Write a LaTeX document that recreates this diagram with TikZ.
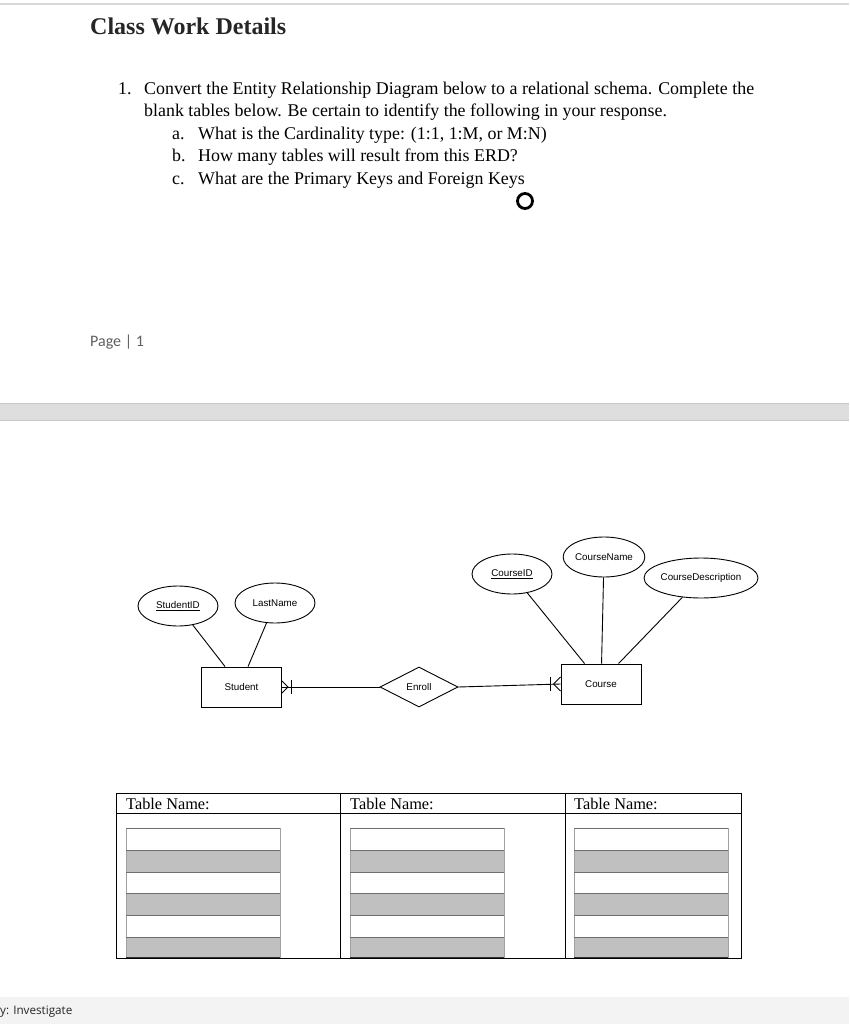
\documentclass[tikz,border=0pt]{standalone}
\usepackage{fontspec}
\setmainfont{Liberation Serif}
\newfontfamily\erdfont{Liberation Sans}
\newfontfamily\pagefont{Carlito}
\newfontfamily\uifont{Open Sans}
\usetikzlibrary{shapes.geometric,calc}
\definecolor{bandgray}{HTML}{DEDEDE}
\definecolor{bandedge}{HTML}{C8C8C8}
\definecolor{barcol}{HTML}{F3F3F3}
\definecolor{rowgray}{HTML}{C0C0C0}
\definecolor{rowline}{HTML}{6E6E6E}
\definecolor{sideline}{HTML}{A0A0A0}
\definecolor{pagegray}{HTML}{606060}
\begin{document}
\begin{tikzpicture}[x=1pt,y=-1pt,
  body/.style={anchor=base west,inner sep=0pt,font=\fontsize{17.9}{21}\selectfont},
  attr/.style={draw,ellipse,line width=0.9pt,inner sep=0pt,minimum width=80pt,minimum height=40pt,font=\erdfont\fontsize{9.8}{11}\selectfont},
  entity/.style={draw,rectangle,line width=0.9pt,inner sep=0pt,minimum width=80pt,minimum height=40pt,font=\erdfont\fontsize{9.8}{11}\selectfont},
  relation/.style={draw,diamond,aspect=2,line width=0.9pt,inner sep=0pt,minimum width=78pt,minimum height=40pt,font=\erdfont\fontsize{9.8}{11}\selectfont},
  erdline/.style={line width=0.9pt},
  tname/.style={anchor=base west,inner sep=0pt,font=\fontsize{16.3}{19}\selectfont}
]
\useasboundingbox (0,0) rectangle (849,1024);
\fill[white] (0,0) rectangle (849,1024);
% top shadow line
\draw[gray!30,line width=2.5pt] (0,4) -- (849,4);

% Title and question
\node[anchor=base west,inner sep=0pt,font=\bfseries\fontsize{24}{28}\selectfont,text=black!85] (title) at (90,35) {Class Work Details};
\node[body] (n1) at (118,95) {1.};
\node[body] (l1) at (144,95) {Convert the Entity Relationship Diagram below to a relational schema. Complete the};
\node[body] (l2) at (144,117) {blank tables below. Be certain to identify the following in your response.};
\node[body] (na) at (172,139.5) {a.};
\node[body] (la) at (198,139.5) {What is the Cardinality type: (1:1, 1:M, or M:N)};
\node[body] (nb) at (172,162) {b.};
\node[body] (lb) at (198,162) {How many tables will result from this ERD?};
\node[body] (nc) at (172,184.5) {c.};
\node[body] (lc) at (198,184.5) {What are the Primary Keys and Foreign Keys};
\node[circle,draw,line width=2.8pt,minimum size=15pt,inner sep=0pt] (cursor) at (525,201) {};

% Page footer
\node[anchor=base west,inner sep=0pt,font=\pagefont\fontsize{16}{19}\selectfont,text=pagegray] (pagenum) at (90,346) {Page | 1};

% page gap band
\fill[bandgray] (0,403) rectangle (849,420);
\draw[bandedge,line width=1pt] (0,403) -- (849,403);
\draw[bandedge,line width=1pt] (0,420) -- (849,420);

% ERD
\node[attr] (sid) at (178,606) {\underline{StudentID}};
\node[attr] (lname) at (275,603) {LastName};
\node[entity] (student) at (241.5,687) {Student};
\node[relation] (enroll) at (419,687) {Enroll};
\node[entity] (course) at (601,684) {Course};
\node[attr] (cid) at (512,574) {\underline{CourseID}};
\node[attr,minimum width=79pt] (cname) at (604,557) {CourseName};
\node[attr,minimum width=81pt] (cdesc) at (701,578) {CourseDescription};

\coordinate (s1) at ($(student.north west)+(24,0)$);
\coordinate (s2) at ($(student.north west)+(47,0)$);
\coordinate (c1) at ($(course.north west)+(24,0)$);
\coordinate (c2) at ($(course.north west)+(41,0)$);
\coordinate (c3) at ($(course.north west)+(58,0)$);
\draw[erdline] (s1) -- (sid);
\draw[erdline] (s2) -- (lname);
\draw[erdline] (c1) -- (cid);
\draw[erdline] (c2) -- (cname);
\draw[erdline] (c3) -- (cdesc);

\draw[erdline] (student.east) -- (enroll.west);
\draw[erdline] (enroll.east) -- (course.west);
% crow's foot at Student (one or many)
\draw[erdline] ($(student.east)+(0,-6)$) -- ($(student.east)+(6,0)$) -- ($(student.east)+(0,6)$);
\draw[erdline] ($(student.east)+(9,-7)$) -- ($(student.east)+(9,7)$);
% crow's foot at Course
\draw[erdline] ($(course.west)+(0,-7)$) -- ($(course.west)+(-7,0)$) -- ($(course.west)+(0,7)$);
\draw[erdline] ($(course.west)+(-10,-7)$) -- ($(course.west)+(-10,7)$);

% Tables
\foreach \x in {126,350,574}{
  \fill[rowgray] (\x,850) rectangle (\x+154,872);
  \fill[rowgray] (\x,893) rectangle (\x+154,915);
  \fill[rowgray] (\x,937) rectangle (\x+154,958);
  \draw[sideline,line width=1pt] (\x,828) -- (\x,958);
  \draw[sideline,line width=1pt] (\x+154,828) -- (\x+154,958);
  \draw[rowline,line width=0.8pt] (\x,828) -- (\x+154,828);
  \foreach \y in {850,872,893,915,937}{
    \draw[rowline,line width=1pt] (\x,\y) -- (\x+154,\y);
  }
  \draw[black!80,line width=1.4pt] (\x,957.5) -- (\x+154,957.5);
}
\draw[line width=1pt] (116,793) rectangle (741,958);
\draw[line width=1pt] (116,813) -- (741,813);
\draw[line width=1pt] (340,793) -- (340,958);
\draw[line width=1pt] (565,793) -- (565,958);
\node[tname] (t1) at (126,809) {Table Name:};
\node[tname] (t2) at (350,809) {Table Name:};
\node[tname] (t3) at (574,809) {Table Name:};

% bottom status bar
\fill[barcol] (0,997) rectangle (849,1024);
\node[anchor=base west,inner sep=0pt,font=\uifont\fontsize{11.7}{14}\selectfont,text=black!85] (status) at (0,1014) {y: Investigate};
\end{tikzpicture}
\end{document}
